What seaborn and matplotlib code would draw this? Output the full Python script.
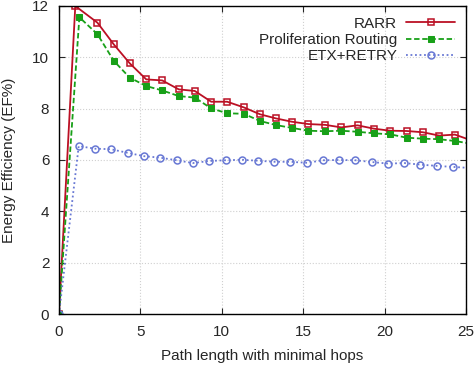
import matplotlib
matplotlib.use("Agg")
import matplotlib.pyplot as plt
import seaborn as sns

# hops axis values (each series sampled at slightly different mean path lengths)
rarr_x = [0, 1.0, 2.36, 3.37, 4.34, 5.36, 6.34, 7.36, 8.34, 9.35, 10.33, 11.35,
          12.35, 13.33, 14.31, 15.32, 16.34, 17.34, 18.34, 19.35, 20.35, 21.35,
          22.36, 23.36, 24.32, 25.35]
rarr_y = [0, 12.0, 11.35, 10.5, 9.77, 9.14, 9.1, 8.75, 8.69, 8.27, 8.27, 8.05,
          7.78, 7.62, 7.49, 7.40, 7.37, 7.27, 7.35, 7.22, 7.14, 7.13, 7.08,
          6.95, 6.99, 6.76]

prolif_x = [0, 1.25, 2.36, 3.37, 4.34, 5.36, 6.34, 7.36, 8.34, 9.35, 10.33, 11.35,
            12.35, 13.33, 14.31, 15.32, 16.34, 17.34, 18.34, 19.35, 20.35, 21.35,
            22.36, 23.36, 24.32, 25.35]
prolif_y = [0, 11.56, 10.9, 9.86, 9.21, 8.88, 8.71, 8.49, 8.43, 8.01, 7.82, 7.80,
            7.52, 7.36, 7.25, 7.14, 7.12, 7.14, 7.10, 7.04, 7.00, 6.87, 6.83,
            6.81, 6.74, 6.63]

etx_x = [0, 1.21, 2.23, 3.19, 4.21, 5.21, 6.22, 7.22, 8.22, 9.22, 10.23, 11.24,
         12.23, 13.23, 14.21, 15.24, 16.22, 17.2, 18.2, 19.22, 20.22, 21.22,
         22.2, 23.21, 24.22, 25.22]
etx_y = [0, 6.54, 6.44, 6.42, 6.28, 6.15, 6.09, 5.99, 5.88, 5.96, 5.99, 6.01,
         5.97, 5.93, 5.93, 5.89, 5.99, 6.00, 5.99, 5.92, 5.86, 5.88, 5.82,
         5.77, 5.73, 5.69]


def plot_chart():
    sns.set_style("ticks")
    plt.rcParams['font.family'] = ['Liberation Sans', 'DejaVu Sans']
    plt.rcParams['font.size'] = 11

    fig = plt.figure(figsize=(4.74, 3.67), dpi=100)
    ax = fig.add_axes([0.1245, 0.1444, 0.8585, 0.8393])

    sns.lineplot(x=rarr_x, y=rarr_y, ax=ax, label='RARR', color='#bb1024',
                 linestyle='-', linewidth=1.3, marker='s', markersize=5,
                 markerfacecolor='none', markeredgecolor='#bb1024',
                 markeredgewidth=1.1, sort=False)
    sns.lineplot(x=prolif_x, y=prolif_y, ax=ax, label='Proliferation Routing',
                 color='#18a018', linestyle=(0, (3, 1.5)), linewidth=1.3,
                 marker='s', markersize=5, markerfacecolor='#18a018',
                 markeredgecolor='#18a018', sort=False)
    sns.lineplot(x=etx_x, y=etx_y, ax=ax, label='ETX+RETRY', color='#6878d4',
                 linestyle=(0, (1, 1.5)), linewidth=1.3, marker='o', markersize=5,
                 markerfacecolor='none', markeredgecolor='#6878d4',
                 markeredgewidth=1.1, sort=False)

    ax.set_xlim(0, 25)
    ax.set_ylim(0, 12)
    ax.set_xticks(range(0, 26, 5))
    ax.set_yticks(range(0, 13, 2))
    ax.grid(True, color='#d0d0d0', linestyle=':', linewidth=0.8)
    ax.tick_params(direction='in', top=True, right=True, length=4,
                   labelsize=11)
    ax.tick_params(axis='x', pad=8)
    ax.tick_params(axis='y', pad=7)
    for sp in ax.spines.values():
        sp.set_linewidth(1.0)
        sp.set_color('black')

    ax.set_xlabel('Path length with minimal hops', fontsize=11, labelpad=7)
    ax.set_ylabel('Energy Efficiency (EF%)', fontsize=11, labelpad=12)

    ax.legend(loc='upper right', frameon=False, markerfirst=False,
              fontsize=11, handlelength=3.2, labelspacing=0.15,
              borderaxespad=0.3, handletextpad=0.6)

    fig.savefig('out.png', dpi=100)


def main():
    plot_chart()


if __name__ == '__main__':
    main()
